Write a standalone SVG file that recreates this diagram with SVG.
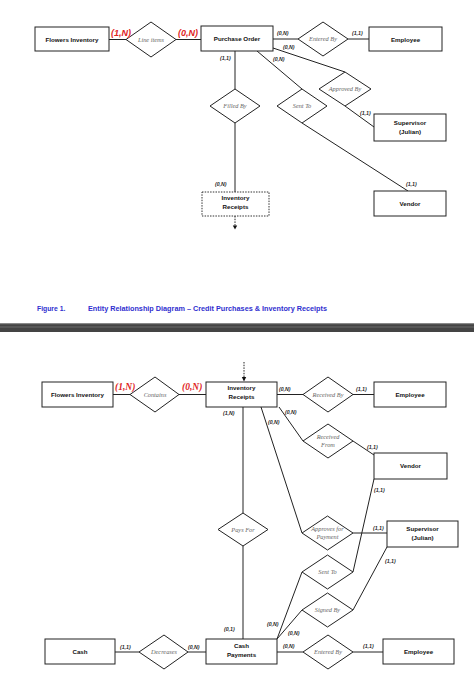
<svg xmlns="http://www.w3.org/2000/svg" width="474" height="679" viewBox="0 0 474 679">
<defs>
<style>
.ent{fill:#fff;stroke:#222;stroke-width:1}
.dot{fill:#fff;stroke:#333;stroke-width:1;stroke-dasharray:1.5 1.2}
.rel{fill:#fff;stroke:#222;stroke-width:1}
.ln{stroke:#222;stroke-width:1;fill:none}
.et{font-family:"Liberation Sans",Arial,sans-serif;font-weight:bold;font-size:6.2px;fill:#111;text-anchor:middle}
.rt{font-family:"Liberation Serif","Times New Roman",serif;font-style:italic;font-size:6.3px;fill:#666;text-anchor:middle}
.c{font-family:"Liberation Sans",Arial,sans-serif;font-weight:bold;font-style:italic;font-size:5.2px;fill:#222}
.red{font-family:"Liberation Sans",Arial,sans-serif;font-weight:bold;font-style:italic;font-size:9px;fill:#e02424}
.redS{font-family:"Liberation Serif","Times New Roman",serif;font-weight:bold;font-style:italic;font-size:9.5px;fill:#e02424}
.cap{font-family:"Liberation Sans",Arial,sans-serif;font-weight:bold;font-size:6.8px;fill:#2f2fcf}
</style>
<marker id="ah" viewBox="0 0 6 6" refX="3" refY="5.5" markerWidth="4" markerHeight="4" orient="auto-start-reverse">
<path d="M0,0 L6,0 L3,6 Z" transform="rotate(0)" fill="#111"/>
</marker>
</defs>
<rect width="474" height="679" fill="#fff"/>

<g id="connectors">
<!-- top -->
<line class="ln" x1="109" y1="39.5" x2="126" y2="39.5"/>
<line class="ln" x1="176" y1="39.5" x2="201" y2="39.5"/>
<line class="ln" x1="273" y1="39" x2="298" y2="39"/>
<line class="ln" x1="348" y1="39" x2="369" y2="39"/>
<line class="ln" x1="273" y1="48" x2="345" y2="72"/>
<line class="ln" x1="345" y1="106" x2="374" y2="127"/>
<line class="ln" x1="257" y1="51" x2="302" y2="89"/>
<line class="ln" x1="302" y1="123" x2="408" y2="191"/>
<line class="ln" x1="235" y1="51" x2="235" y2="89"/>
<line class="ln" x1="235" y1="123" x2="235" y2="192"/>
<line x1="235" y1="216" x2="235" y2="226" stroke="#222" stroke-width="1" stroke-dasharray="1.5 1.2"/>
<path d="M232.8,225.5 L237.2,225.5 L235,229.5 Z" fill="#111"/>
<!-- bottom -->
<line x1="244" y1="362" x2="244" y2="377" stroke="#222" stroke-width="1" stroke-dasharray="1.5 1.2"/>
<path d="M241.8,377 L246.2,377 L244,381.5 Z" fill="#111"/>
<line class="ln" x1="113" y1="394.5" x2="130" y2="394.5"/>
<line class="ln" x1="179" y1="394.5" x2="206" y2="394.5"/>
<line class="ln" x1="277" y1="394.5" x2="303" y2="394.5"/>
<line class="ln" x1="353" y1="394.5" x2="374" y2="394.5"/>
<line class="ln" x1="279" y1="407" x2="303" y2="441"/>
<line class="ln" x1="353" y1="441" x2="374" y2="455"/>
<line class="ln" x1="261" y1="407" x2="302" y2="533"/>
<line class="ln" x1="353" y1="533" x2="387" y2="533"/>
<line class="ln" x1="374" y1="479" x2="353" y2="572"/>
<line class="ln" x1="387" y1="547" x2="353" y2="610"/>
<line class="ln" x1="277" y1="639" x2="302" y2="572"/>
<line class="ln" x1="277" y1="639" x2="302" y2="610"/>
<line class="ln" x1="243" y1="407" x2="243" y2="513"/>
<line class="ln" x1="243" y1="546" x2="243" y2="639"/>
<line class="ln" x1="115" y1="652" x2="139" y2="652"/>
<line class="ln" x1="188" y1="652" x2="206" y2="652"/>
<line class="ln" x1="277" y1="652" x2="303" y2="652"/>
<line class="ln" x1="353" y1="652" x2="383" y2="652"/>
</g>

<!-- top entities -->
<g id="flowers-inventory-1"><rect class="ent" x="35" y="27" width="74" height="24"/><text class="et" x="72" y="41.5">Flowers Inventory</text></g>
<g id="purchase-order"><rect class="ent" x="201" y="26" width="72" height="25"/><text class="et" x="237" y="40.5">Purchase Order</text></g>
<g id="employee-1"><rect class="ent" x="369" y="27" width="73" height="24"/><text class="et" x="405.5" y="41.5">Employee</text></g>
<g id="supervisor-1"><rect class="ent" x="374" y="114" width="72" height="27"/><text class="et" x="410" y="125">Supervisor</text><text class="et" x="410" y="134">(Julian)</text></g>
<g id="vendor-1"><rect class="ent" x="374" y="191" width="72" height="25"/><text class="et" x="410" y="205.5">Vendor</text></g>
<g id="inventory-receipts-1"><rect class="dot" x="202" y="192" width="67" height="24"/><text class="et" x="235.5" y="199.5">Inventory</text><text class="et" x="235.5" y="208.5">Receipts</text></g>

<!-- top relationships -->
<g id="line-items"><polygon class="rel" points="126,39.5 151,22 176,39.5 151,57"/><text class="rt" x="151" y="41.5">Line items</text></g>
<g id="entered-by-1"><polygon class="rel" points="298,39 323,22 348,39 323,56"/><text class="rt" x="323" y="41">Entered  By</text></g>
<g id="approved-by"><polygon class="rel" points="319,89 345,72 371,89 345,106"/><text class="rt" x="345" y="91">Approved By</text></g>
<g id="filled-by"><polygon class="rel" points="210,106 235,89 260,106 235,123"/><text class="rt" x="235" y="108">Filled By</text></g>
<g id="sent-to-1"><polygon class="rel" points="277,106 302,89 327,106 302,123"/><text class="rt" x="302" y="108">Sent To</text></g>

<!-- top cardinalities -->
<g id="card-top">
<text class="red" x="111" y="36">(1,N)</text>
<text class="red" x="178" y="36">(0,N)</text>
<text class="c" x="277" y="35">(0,N)</text>
<text class="c" x="352" y="35">(1,1)</text>
<text class="c" x="283" y="49">(0,N)</text>
<text class="c" x="273" y="61">(0,N)</text>
<text class="c" x="220" y="60">(1,1)</text>
<text class="c" x="360" y="115">(1,1)</text>
<text class="c" x="215" y="186">(0,N)</text>
<text class="c" x="406" y="186">(1,1)</text>
</g>

<!-- caption -->
<g id="caption">
<text class="cap" x="37" y="310.5">Figure 1.</text>
<text class="cap" x="88" y="310.5" textLength="239" lengthAdjust="spacingAndGlyphs">Entity Relationship Diagram – Credit Purchases &amp; Inventory Receipts</text>
</g>
<g id="page-break">
<rect x="0" y="323" width="474" height="9" fill="#444"/>
<rect x="0" y="323" width="474" height="1.2" fill="#8a8a8a"/>
<rect x="0" y="326.5" width="474" height="1" fill="#6a6a6a"/>
</g>

<!-- bottom entities -->
<g id="flowers-inventory-2"><rect class="ent" x="42" y="382" width="71" height="25"/><text class="et" x="77.5" y="397">Flowers Inventory</text></g>
<g id="inventory-receipts-2"><rect class="ent" x="206" y="382" width="71" height="25"/><text class="et" x="241.5" y="390">Inventory</text><text class="et" x="241.5" y="399">Receipts</text></g>
<g id="employee-2"><rect class="ent" x="374" y="382" width="72" height="25"/><text class="et" x="410" y="397">Employee</text></g>
<g id="vendor-2"><rect class="ent" x="374" y="453" width="73" height="26"/><text class="et" x="410.5" y="468">Vendor</text></g>
<g id="supervisor-2"><rect class="ent" x="387" y="521" width="71" height="26"/><text class="et" x="422.5" y="531">Supervisor</text><text class="et" x="422.5" y="540">(Julian)</text></g>
<g id="cash"><rect class="ent" x="45" y="639" width="70" height="25"/><text class="et" x="80" y="654">Cash</text></g>
<g id="cash-payments"><rect class="ent" x="206" y="639" width="71" height="25"/><text class="et" x="241.5" y="648">Cash</text><text class="et" x="241.5" y="657">Payments</text></g>
<g id="employee-3"><rect class="ent" x="383" y="639" width="71" height="25"/><text class="et" x="418.5" y="654">Employee</text></g>

<!-- bottom relationships -->
<g id="contains"><polygon class="rel" points="130,394.5 155,377 179,394.5 155,412"/><text class="rt" x="155" y="396.5">Contains</text></g>
<g id="received-by"><polygon class="rel" points="303,394.5 328,377 353,394.5 328,412"/><text class="rt" x="328" y="396.5">Received By</text></g>
<g id="received-from"><polygon class="rel" points="303,441 328,424 353,441 328,458"/><text class="rt" x="328" y="439">Received</text><text class="rt" x="328" y="447">From</text></g>
<g id="pays-for"><polygon class="rel" points="218,529.5 243,513 268,529.5 243,546"/><text class="rt" x="243" y="531.5">Pays For</text></g>
<g id="approves-for-payment"><polygon class="rel" points="302,533 327.5,516 353,533 327.5,550"/><text class="rt" x="327.5" y="531">Approves for</text><text class="rt" x="327.5" y="539">Payment</text></g>
<g id="sent-to-2"><polygon class="rel" points="302,572 327.5,555 353,572 327.5,589"/><text class="rt" x="327.5" y="574">Sent To</text></g>
<g id="signed-by"><polygon class="rel" points="302,610 327.5,593 353,610 327.5,627"/><text class="rt" x="327.5" y="612">Signed By</text></g>
<g id="decreases"><polygon class="rel" points="139,652 164,635 188,652 164,669"/><text class="rt" x="164" y="654">Decreases</text></g>
<g id="entered-by-2"><polygon class="rel" points="303,652 328,635 353,652 328,669"/><text class="rt" x="328" y="654">Entered By</text></g>

<!-- bottom cardinalities -->
<g id="card-bottom">
<text class="redS" x="115" y="390">(1,N)</text>
<text class="redS" x="182" y="390">(0,N)</text>
<text class="c" x="279" y="391">(0,N)</text>
<text class="c" x="356" y="391">(1,1)</text>
<text class="c" x="223" y="415">(1,N)</text>
<text class="c" x="285" y="414">(0,N)</text>
<text class="c" x="268" y="424">(0,N)</text>
<text class="c" x="367" y="449">(1,1)</text>
<text class="c" x="374" y="492">(1,1)</text>
<text class="c" x="373" y="530">(1,1)</text>
<text class="c" x="385" y="563">(1,1)</text>
<text class="c" x="224" y="631">(0,1)</text>
<text class="c" x="267" y="626">(0,N)</text>
<text class="c" x="288" y="635">(0,N)</text>
<text class="c" x="120" y="649">(1,1)</text>
<text class="c" x="188" y="649">(0,N)</text>
<text class="c" x="283" y="648">(0,N)</text>
<text class="c" x="363" y="648">(1,1)</text>
</g>
</svg>
